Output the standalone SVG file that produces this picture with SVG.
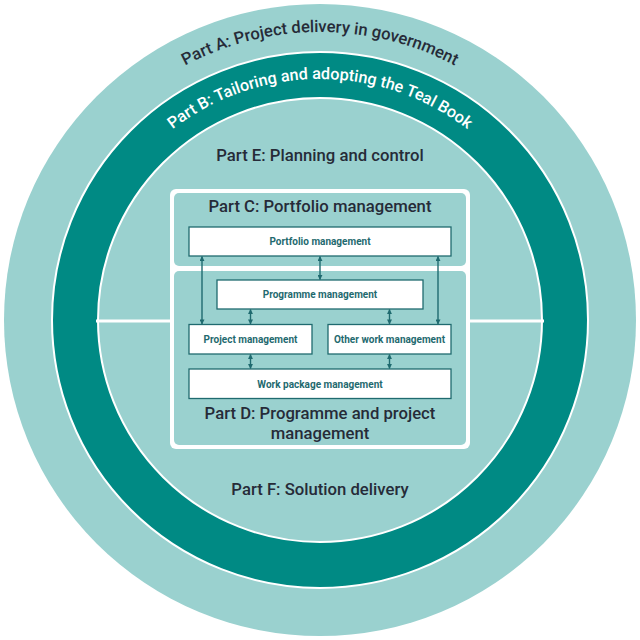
<svg xmlns="http://www.w3.org/2000/svg" width="640" height="640" viewBox="0 0 640 640">
<style>
.light{fill:#9ad1cf}
.teal{fill:#008a84}
.ttl{font-family:Roboto,"Liberation Sans",sans-serif;font-weight:500;fill:#262b38;text-anchor:middle;font-size:16.7px}
.arc{font-family:Roboto,"Liberation Sans",sans-serif;font-weight:500}
.box{fill:#ffffff;stroke:#1f6a6f;stroke-width:1.3}
.bt{font-family:Roboto,"Liberation Sans",sans-serif;font-weight:700;font-size:10px;fill:#1f6a6f;text-anchor:middle}
.con{stroke:#1f6a6f;stroke-width:1.4;fill:none;marker-start:url(#ah);marker-end:url(#ah)}
</style>
<defs>
<marker id="ah" viewBox="0 0 6 6" refX="5.5" refY="3" markerWidth="5" markerHeight="5" markerUnits="userSpaceOnUse" orient="auto-start-reverse">
<path d="M0,0 L6,3 L0,6 Z" fill="#1f6a6f"/>
</marker>
<path id="arcA" d="M32,320 A288,288 0 0 1 608,320"/>
<path id="arcB" d="M79,320 A241,241 0 0 1 561,320"/>
</defs>
<g id="partA">
<circle cx="320" cy="320" r="316" class="light"/>
<text class="arc" fill="#262b38" font-size="16.6"><textPath href="#arcA" startOffset="50%" text-anchor="middle">Part A: Project delivery in government</textPath></text>
</g>
<g id="partB">
<circle cx="320" cy="320" r="268" class="teal" stroke="#ffffff" stroke-width="2"/>
<text class="arc" fill="#ffffff" font-size="16.2"><textPath href="#arcB" startOffset="50%" text-anchor="middle">Part B: Tailoring and adopting the Teal Book</textPath></text>
</g>
<g id="partEF">
<circle cx="320" cy="320" r="222" class="light" stroke="#ffffff" stroke-width="2"/>
<rect x="96" y="319.5" width="80" height="3" fill="#ffffff"/>
<rect x="464" y="319.5" width="80" height="3" fill="#ffffff"/>
<text class="ttl" x="320" y="161">Part E: Planning and control</text>
<text class="ttl" x="320" y="495">Part F: Solution delivery</text>
</g>
<g id="core">
<rect x="170" y="189" width="300" height="260" rx="6" fill="#ffffff"/>
</g>
<g id="partC">
<rect x="174" y="193" width="292" height="73" rx="5" class="light"/>
<text class="ttl" x="320" y="212">Part C: Portfolio management</text>
</g>
<g id="partD">
<rect x="174" y="271" width="292" height="174" rx="5" class="light"/>
<text class="ttl" x="320" y="419">Part D: Programme and project</text>
<text class="ttl" x="320" y="439">management</text>
</g>
<g id="portfolio">
<rect x="189" y="227" width="262" height="29" class="box"/>
<text class="bt" x="320" y="245">Portfolio management</text>
</g>
<g id="programme">
<rect x="217" y="280" width="206" height="29" class="box"/>
<text class="bt" x="320" y="298">Programme management</text>
</g>
<g id="project">
<rect x="189" y="324.5" width="123" height="29.5" class="box"/>
<text class="bt" x="250.5" y="343">Project management</text>
</g>
<g id="otherwork">
<rect x="328" y="324.5" width="123" height="29.5" class="box"/>
<text class="bt" x="389.5" y="343">Other work management</text>
</g>
<g id="workpackage">
<rect x="189" y="369" width="262" height="29.5" class="box"/>
<text class="bt" x="320" y="387.5">Work package management</text>
</g>
<g id="connectors">
<line class="con" x1="202" y1="256.5" x2="202" y2="324"/>
<line class="con" x1="320" y1="256.5" x2="320" y2="279.5"/>
<line class="con" x1="438" y1="256.5" x2="438" y2="324"/>
<line class="con" x1="250.5" y1="309.5" x2="250.5" y2="324"/>
<line class="con" x1="389.5" y1="309.5" x2="389.5" y2="324"/>
<line class="con" x1="250.5" y1="354.5" x2="250.5" y2="368.5"/>
<line class="con" x1="389.5" y1="354.5" x2="389.5" y2="368.5"/>
</g>
</svg>
